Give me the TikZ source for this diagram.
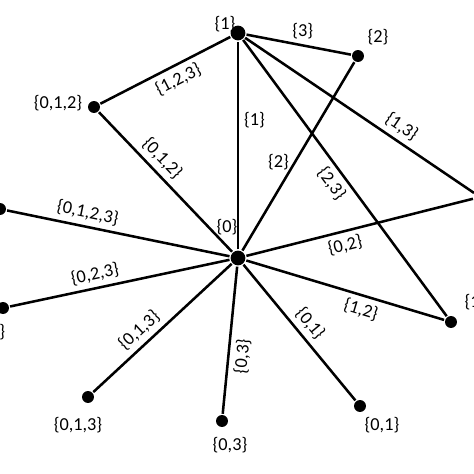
\documentclass[tikz,border=0pt]{standalone}
\usepackage{fontspec}
\setmainfont{Carlito}
\usepackage{tikz}

\begin{document}
\begin{tikzpicture}[x=0.025cm,y=0.025cm,line width=1.8pt,font=\fontsize{13}{15}\selectfont]
    \tikzstyle{vert}=[circle, fill=black, draw=none, inner sep=0pt, minimum size=8.5pt]
    \tikzstyle{hub}=[style=vert, minimum size=10.5pt]
    \tikzstyle{lab}=[inner sep=0pt, text=black]
    \tikzstyle{elab}=[text=black, inner sep=3.5pt]
    \tikzstyle{slab}=[style=elab, sloped]

    \useasboundingbox (0,0) rectangle (474,474);
    \clip (0,0) rectangle (474,474);

    \node[hub]  (c0)    at (238,216) {};   \node[lab] (l0)    at (227,247)   {\{0\}};
    \node[hub]  (n1)    at (238,441) {};   \node[lab] (l1)    at (225,450)   {\{1\}};
    \node[vert] (n2)    at (358,418) {};   \node[lab] (l2)    at (378,437)   {\{2\}};
    \node[vert] (n012)  at (94,367)  {};   \node[lab] (l012)  at (58,371)    {\{0,1,2\}};
    \node[vert] (n0123) at (0,265)   {};
    \node[vert] (n023)  at (3,166)   {};   \node[lab] (l023)  at (-19,142)   {\{0,2,3\}};
    \node[vert] (n013)  at (88,77)   {};   \node[lab] (l013)  at (78,49)     {\{0,1,3\}};
    \node[vert] (n03)   at (222,53)  {};   \node[lab] (l03)   at (230,29)    {\{0,3\}};
    \node[vert] (n01)   at (360,68)  {};   \node[lab] (l01)   at (382,49)    {\{0,1\}};
    \node[vert] (n12)   at (451,152) {};   \node[lab] (l12)   at (482,172)   {\{1,2\}};
    \node[vert] (n02)   at (480,277) {};
%     \node[lab] (l0123) at (-40,265) {\{0,1,2,3\}};
    \path
     (c0) edge node[elab,right,pos=0.62] {\{1\}} (n1)
     (c0) edge node[elab,left,pos=0.47] {\{2\}} (n2)
     (n1) edge node[elab,above,pos=0.54] {\{3\}} (n2)
     (c0) edge node[slab,above,pos=0.6] {\{0,1,2\}} (n012)
     (n1) edge node[slab,below,pos=0.45] {\{1,2,3\}} (n012)
     (c0) edge node[slab,above,pos=0.65] {\{0,1,2,3\}} (n0123)
     (c0) edge node[slab,above,pos=0.6] {\{0,2,3\}} (n023)
     (c0) edge node[slab,above,pos=0.6] {\{0,1,3\}} (n013)
     (c0) edge node[slab,below,pos=0.6] {\{0,3\}} (n03)
     (c0) edge node[slab,above,pos=0.5] {\{0,1\}} (n01)
     (c0) edge node[slab,below,pos=0.6] {\{1,2\}} (n12)
     (c0) edge node[slab,below,pos=0.42] {\{0,2\}} (n02)
     (n1) edge node[slab,above,pos=0.65] {\{1,3\}} (n02)
     (n1) edge node[slab,below,pos=0.49] {\{2,3\}} (n12)
     ;
\end{tikzpicture}
\end{document}
